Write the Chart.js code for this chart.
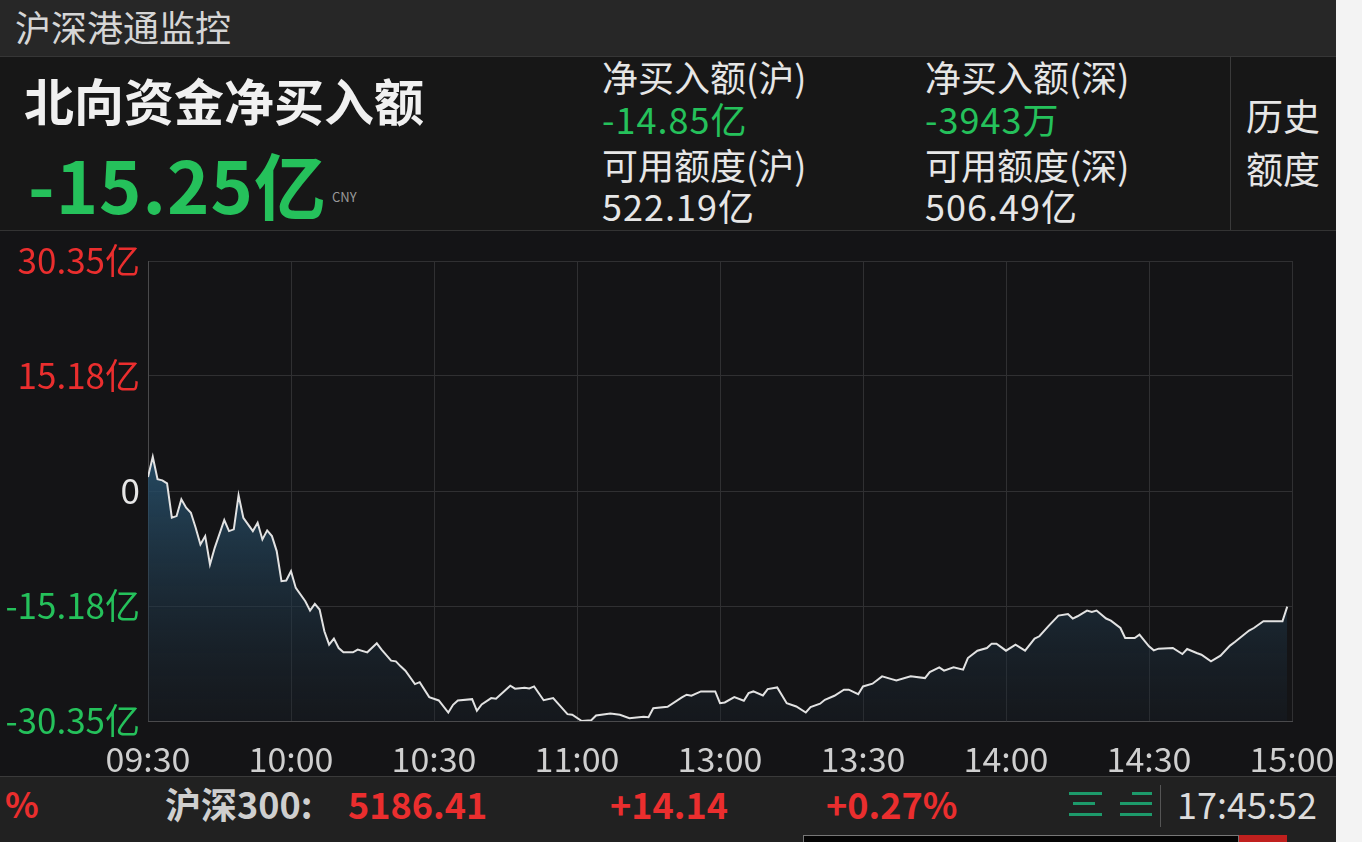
<!DOCTYPE html>
<html>
<head>
<meta charset="utf-8">
<script src="https://cdn.jsdelivr.net/npm/chart.js@4.4.1/dist/chart.umd.min.js"></script>
<style>
  html, body { margin: 0; padding: 0; }
  body { width: 1362px; height: 842px; background: #f3f3f3; position: relative; overflow: hidden;
         font-family: "Noto Sans CJK SC", "Noto Sans", sans-serif; }
  .t { position: absolute; white-space: nowrap; line-height: 1; }
  #titleBar { position: absolute; left: 0; top: 0; width: 1336px; height: 56px; background: #272727; }
  #info { position: absolute; left: 0; top: 56px; width: 1336px; height: 175px; background: #171717;
          border-top: 1px solid #363636; border-bottom: 1px solid #333; box-sizing: border-box; }
  #histBox { position: absolute; left: 1230px; top: 57px; width: 1px; height: 173px; background: #3a3a3a; }
  #chartWrap { position: absolute; left: 0; top: 231px; width: 1336px; height: 545px; background: #141416; }
  #bottomBar { position: absolute; left: 0; top: 776px; width: 1336px; height: 66px; background: #212121;
               border-top: 1px solid #3a3a3a; box-sizing: border-box; }
  .green { color: #25c15b; }
  .red { color: #ea2e2e; }
  .num { letter-spacing: 1px; }
  .bar { position: absolute; height: 3px; background: #1d9a6b; }
</style>
</head>
<body>
<div id="titleBar"></div>
<div class="t" style="left:15px; top:8px; font-size:36px; color:#d6d6d6;">沪深港通监控</div>

<div id="info"></div>
<div id="histBox"></div>
<div class="t" style="left:24px; top:74px; font-size:50px; font-weight:bold; color:#f0f0f0;">北向资金净买入额</div>
<div class="t green" style="left:28px; top:147px; font-size:72px; font-weight:bold; letter-spacing:1px;">-15.25亿</div>
<div class="t" style="left:332px; top:190px; font-size:13px; color:#9a9a9a;">CNY</div>

<div class="t" style="left:602px; top:58px; font-size:36px; color:#e6e6e6;">净买入额(沪)</div>
<div class="t green num" style="left:602px; top:100px; font-size:36px;">-14.85亿</div>
<div class="t" style="left:602px; top:146px; font-size:36px; color:#e6e6e6;">可用额度(沪)</div>
<div class="t num" style="left:602px; top:187px; font-size:36px; color:#e6e6e6;">522.19亿</div>

<div class="t" style="left:925px; top:58px; font-size:36px; color:#e6e6e6;">净买入额(深)</div>
<div class="t green num" style="left:925px; top:100px; font-size:36px;">-3943万</div>
<div class="t" style="left:925px; top:146px; font-size:36px; color:#e6e6e6;">可用额度(深)</div>
<div class="t num" style="left:925px; top:187px; font-size:36px; color:#e6e6e6;">506.49亿</div>

<div class="t" style="left:1246px; top:97px; font-size:37px; color:#e6e6e6;">历史</div>
<div class="t" style="left:1246px; top:150px; font-size:37px; color:#e6e6e6;">额度</div>

<div id="chartWrap"><canvas id="flowChart"></canvas></div>

<div id="bottomBar"></div>
<div class="t red" style="left:5px; top:785px; font-size:35px; font-weight:bold;">%</div>
<div class="t" style="left:165px; top:785px; font-size:36px; font-weight:bold; color:#cfcfcf;">沪深300:</div>
<div class="t red" style="left:348px; top:785px; font-size:36px; font-weight:bold;">5186.41</div>
<div class="t red" style="left:610px; top:785px; font-size:36px; font-weight:bold;">+14.14</div>
<div class="t red" style="left:826px; top:785px; font-size:36px; font-weight:bold;">+0.27%</div>
<div class="bar" style="left:1069px; top:792px; width:33px;"></div>
<div class="bar" style="left:1073px; top:802px; width:22px;"></div>
<div class="bar" style="left:1069px; top:813px; width:33px;"></div>
<div class="bar" style="left:1132px; top:792px; width:20px;"></div>
<div class="bar" style="left:1120px; top:802px; width:32px;"></div>
<div class="bar" style="left:1120px; top:813px; width:32px;"></div>
<div style="position:absolute; left:1160px; top:785px; width:1px; height:42px; background:#555;"></div>
<div class="t" style="left:1177px; top:785px; font-size:36px; color:#dcdcdc;">17:45:52</div>
<div style="position:absolute; left:803px; top:835px; width:436px; height:10px; background:#050505; border:1px solid #777; box-sizing:border-box;"></div>
<div style="position:absolute; left:1239px; top:835px; width:48px; height:10px; background:#c0201e;"></div>

<script>
// minutes since 09:30 (trading minutes, lunch break skipped)
const minutes = [0,1,2,3,4,5,6,7,8,9,10,11,12,13,14,16,17,18,19,20,22,23,24,25,26,27,28,29,30,31,33,34,35,36,37,38,39,40,41,43,44,46,48,49,51,52,53,54,56,57,59,61,63,64,65,68,69,70,72,73,76,77,79,80,81,83,85,88,89,91,93,94,97,99,101,104,105,106,109,112,113,114,116,119,120,121,123,125,126,127,129,130,132,134,136,138,139,141,142,144,146,147,149,150,152,154,156,157,160,163,164,166,167,169,171,172,174,176,177,178,180,182,184,186,187,189,191,193,194,195,197,198,199,201,202,204,205,207,208,210,211,212,215,217,218,220,221,223,225,227,228,231,232,234,238,239];

// 北向资金净买入额 (亿元)
const netBuy = [1.85,4.50,1.55,1.40,1.00,-3.53,-3.31,-1.10,-2.21,-2.87,-4.85,-7.05,-5.95,-9.69,-7.50,-3.83,-5.29,-5.06,-0.57,-3.53,-5.29,-4.19,-6.39,-5.20,-5.95,-7.93,-11.90,-11.81,-10.58,-12.79,-14.55,-15.78,-14.90,-15.64,-18.51,-20.27,-19.48,-20.72,-21.29,-21.29,-20.93,-21.29,-20.10,-20.93,-22.39,-22.48,-23.14,-23.71,-25.48,-25.22,-27.20,-27.64,-29.23,-28.21,-27.64,-27.47,-29.00,-28.17,-27.33,-27.41,-25.69,-26.09,-25.96,-26.05,-25.79,-27.61,-27.33,-29.45,-29.53,-30.35,-30.25,-29.62,-29.36,-29.53,-29.98,-29.79,-29.85,-28.66,-28.47,-27.24,-26.88,-27.02,-26.45,-26.45,-28.00,-27.90,-27.20,-27.68,-26.67,-26.45,-26.98,-26.14,-25.92,-28.00,-28.43,-29.23,-28.52,-28.07,-27.55,-27.02,-26.22,-26.22,-26.81,-25.79,-25.43,-24.46,-24.82,-24.99,-24.46,-24.69,-23.90,-23.27,-23.71,-23.27,-23.58,-22.04,-21.07,-20.72,-20.14,-20.14,-21.07,-20.27,-21.07,-19.48,-19.17,-17.76,-16.44,-16.23,-16.83,-16.53,-15.78,-15.96,-15.78,-16.83,-17.10,-18.08,-19.40,-19.40,-18.95,-20.50,-21.03,-20.80,-20.72,-21.52,-20.85,-21.38,-21.60,-22.48,-21.73,-20.40,-19.93,-18.42,-18.08,-17.19,-17.19,-15.25];

const timeTicks = [0,30,60,90,120,150,180,210,240];
const timeLabels = ["09:30","10:00","10:30","11:00","13:00","13:30","14:00","14:30","15:00"];
const yTicks = [-30.35,-15.175,0,15.175,30.35];
const yLabels = ["-30.35亿","-15.18亿","0","15.18亿","30.35亿"];

const RED = "#ea2e2e";
const GREEN = "#25c15b";

const ctx = document.getElementById("flowChart").getContext("2d");

const points = minutes.map((m, i) => ({ x: m, y: netBuy[i] }));

new Chart(ctx, {
    type: "line",
    data: {
        datasets: [
            {
                data: points,
                borderColor: "#e2e2e2",
                borderWidth: 2,
                pointRadius: 0,
                tension: 0,
                fill: "start",
                backgroundColor: (c) => {
                    const area = c.chart.chartArea;
                    if (!area) return "rgba(30,60,80,0.6)";
                    const g = c.chart.ctx.createLinearGradient(0, area.top + 190, 0, area.bottom);
                    g.addColorStop(0, "rgba(40,82,110,0.9)");
                    g.addColorStop(1, "rgba(25,35,45,0.3)");
                    return g;
                },
            },
        ],
    },
    options: {
        responsive: true,
        maintainAspectRatio: false,
        animation: false,
        layout: { padding: { top: 30, right: 44, bottom: 0, left: 0 } },
        plugins: { legend: { display: false }, tooltip: { enabled: false } },
        scales: {
            x: {
                type: "linear",
                min: 0,
                max: 240,
                afterBuildTicks: (s) => { s.ticks = timeTicks.map((v) => ({ value: v })); },
                afterFit: (s) => {
                    s.height = 55;
                    // labels may hang past the plot edges, the layout padding keeps room
                    s.paddingLeft = 0;
                    s.paddingRight = 0;
                },
                grid: { color: "#303032", drawTicks: false },
                border: { color: "#4a4a4c" },
                ticks: {
                    autoSkip: false,
                    maxRotation: 0,
                    padding: 18,
                    color: "#cfcfcf",
                    font: { size: 34, family: "Noto Sans CJK SC" },
                    callback: (v) => timeLabels[timeTicks.indexOf(v)],
                },
            },
            y: {
                min: -30.35,
                max: 30.35,
                afterBuildTicks: (s) => { s.ticks = yTicks.map((v) => ({ value: v })); },
                afterFit: (s) => { s.width = 148; },
                grid: { color: "#303032", drawTicks: false },
                border: { color: "#4a4a4c" },
                ticks: {
                    padding: 8,
                    font: { size: 35, family: "Noto Sans CJK SC" },
                    color: (c) => (c.tick.value > 0 ? RED : c.tick.value < 0 ? GREEN : "#e6e6e6"),
                    callback: (v) => yLabels[yTicks.indexOf(v)],
                },
            },
        },
    },
});
</script>
</body>
</html>
